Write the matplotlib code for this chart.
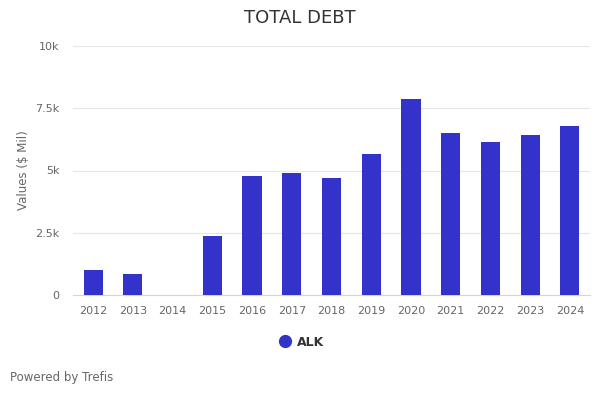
import matplotlib
matplotlib.use("Agg")
import matplotlib.pyplot as plt
from matplotlib.lines import Line2D

years = ["2012", "2013", "2014", "2015", "2016", "2017", "2018", "2019", "2020", "2021", "2022", "2023", "2024"]
alk_debt = [1010, 850, 0, 2380, 4760, 4880, 4680, 5650, 7860, 6490, 6130, 6410, 6770]
y_ticks = [0, 2500, 5000, 7500, 10000]
y_tick_labels = ["0", "2.5k", "5k", "7.5k", "10k"]

bar_color = "#3333CC"

fig = plt.figure(figsize=(6, 4), dpi=100)
ax = fig.add_axes([0.122, 0.2625, 0.861, 0.6225])

x = list(range(len(years)))
ax.bar(x, alk_debt, width=0.48, color=bar_color, zorder=3)

ax.set_xlim(-0.5, len(years) - 0.5)
ax.set_ylim(0, 10000)
ax.set_yticks(y_ticks)
ax.set_yticklabels(y_tick_labels)
ax.set_xticks(x)
ax.set_xticklabels(years)

ax.grid(axis="y", color="#e6e6e6", linewidth=0.8, zorder=0)
for s in ["top", "right", "left"]:
    ax.spines[s].set_visible(False)
ax.spines["bottom"].set_color("#ccd6eb")
ax.spines["bottom"].set_linewidth(0.8)
ax.tick_params(axis="both", length=0, labelsize=8, colors="#666666")
ax.tick_params(axis="y", pad=10)
ax.tick_params(axis="x", pad=8)

ax.set_ylabel("Values ($ Mil)", fontsize=8.5, color="#666666", labelpad=4)

fig.text(0.5, 0.955, "TOTAL DEBT", ha="center", va="center", fontsize=13, color="#333333")

handle = Line2D([], [], marker="o", linestyle="none", markersize=8.5, color=bar_color)
leg = fig.legend([handle], ["ALK"], loc="center", bbox_to_anchor=(0.502, 0.145), frameon=False,
                 prop={"weight": "bold", "size": 9}, handletextpad=0.35, handlelength=1.2)
for t in leg.get_texts():
    t.set_color("#333333")

fig.text(0.017, 0.055, "Powered by Trefis", ha="left", va="center", fontsize=8.5, color="#666666")

fig.savefig("out.png", dpi=100)
